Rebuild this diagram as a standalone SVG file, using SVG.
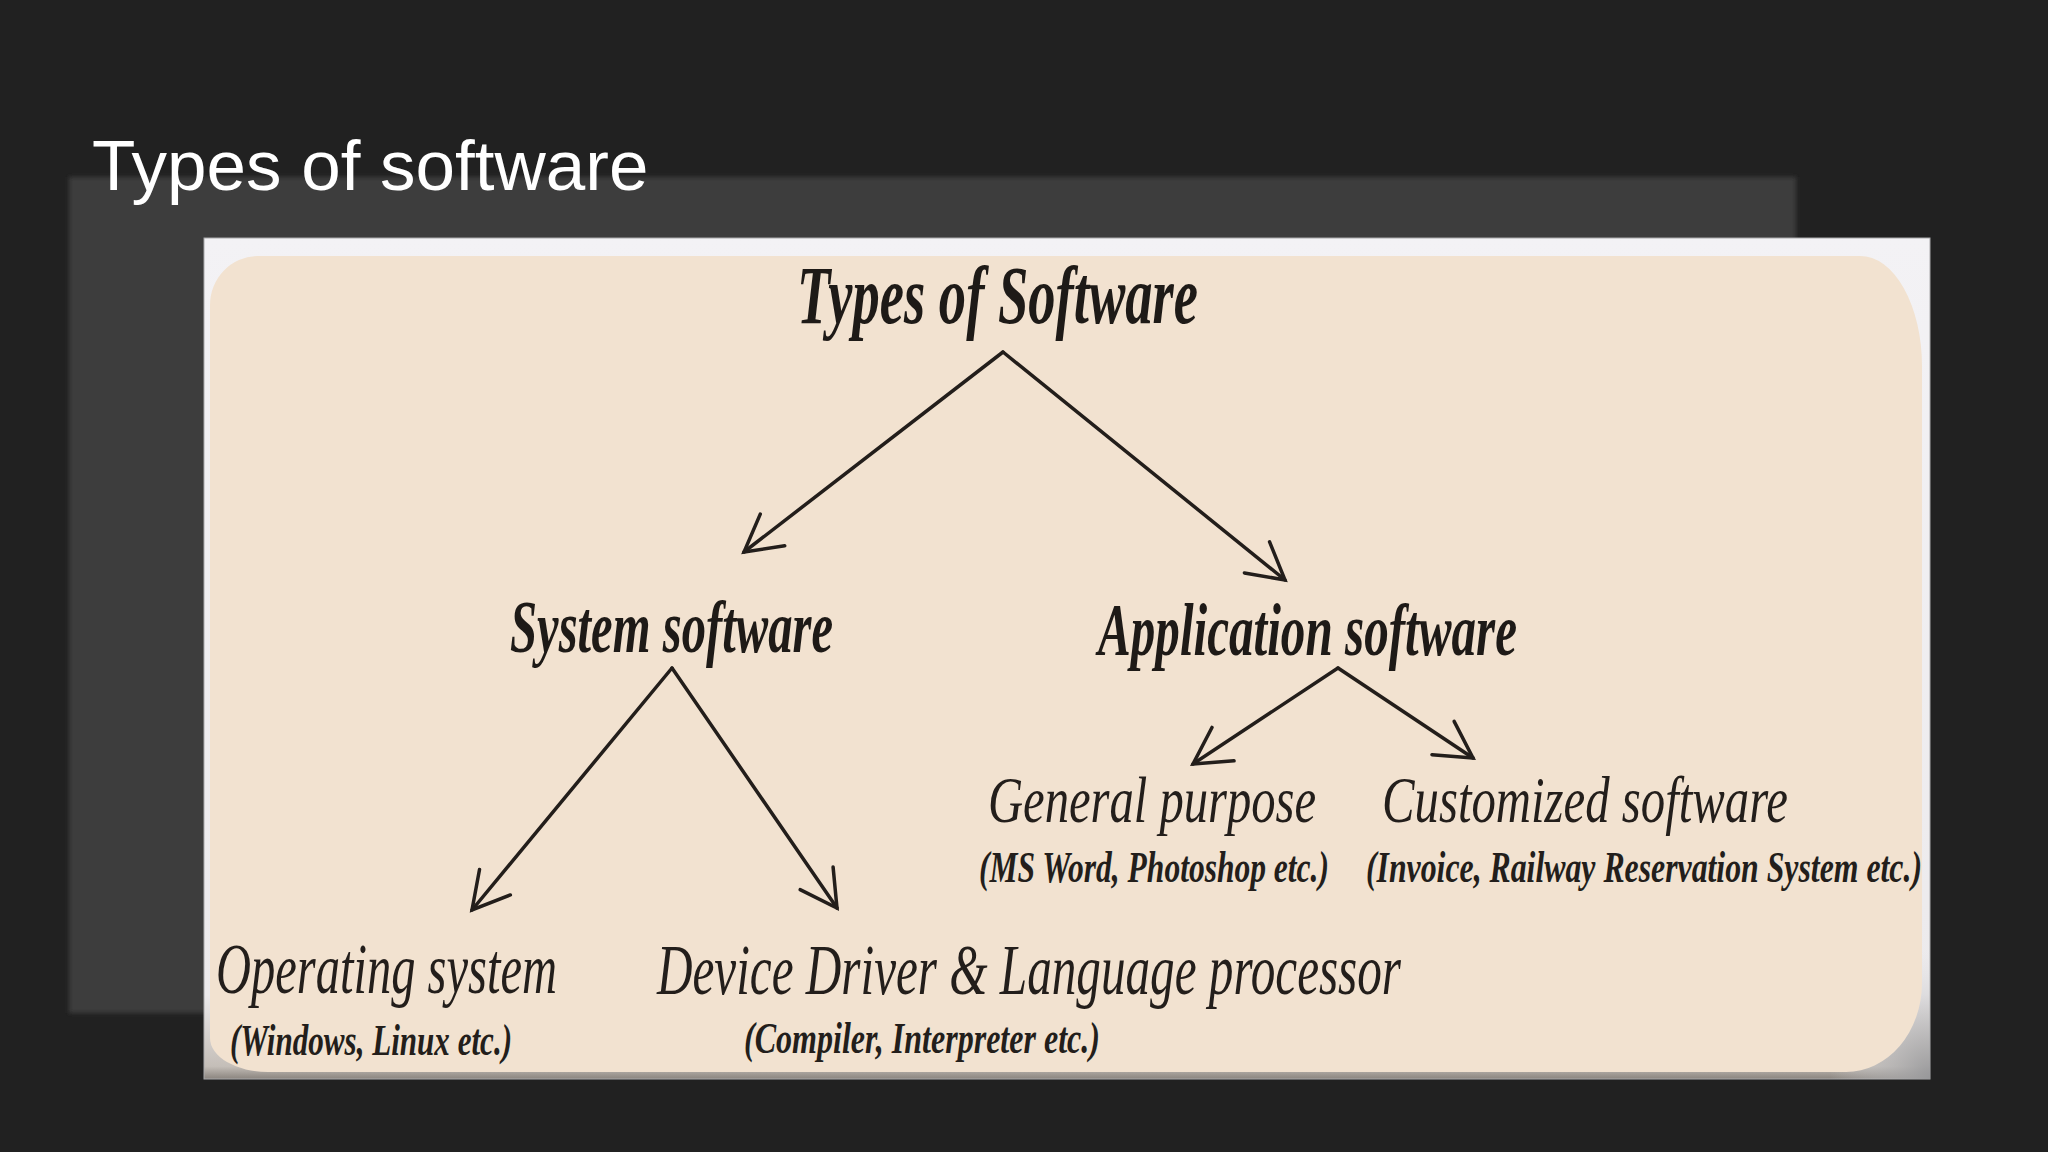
<svg xmlns="http://www.w3.org/2000/svg" width="2048" height="1152" viewBox="0 0 2048 1152">
  <style>
    .h { font-family: "Liberation Serif", "Times New Roman", serif; font-style: italic; font-weight: bold; fill: #1e1a17; }
    .r { font-family: "Liberation Serif", "Times New Roman", serif; font-style: italic; font-weight: normal; fill: #231e1b; }
    .s { font-family: "Liberation Serif", "Times New Roman", serif; font-style: italic; font-weight: bold; fill: #231e1b; font-size: 44px; }
    .edge { fill: none; stroke: #231e1b; stroke-width: 3.5; stroke-linecap: round; marker-end: url(#ah); }
  </style>
  <defs>
    <marker id="ah" markerUnits="userSpaceOnUse" markerWidth="50" markerHeight="50" refX="40" refY="20" orient="auto" overflow="visible">
      <path d="M4,0 L40,20 L4,40" fill="none" stroke="#231e1b" stroke-width="3.5" stroke-linecap="round" stroke-linejoin="miter"/>
    </marker>
    <linearGradient id="frameG" x1="0" y1="0" x2="0" y2="1">
      <stop offset="0" stop-color="#f3f2f5"/>
      <stop offset="0.9" stop-color="#eceaec"/>
      <stop offset="0.985" stop-color="#c4beb8"/>
      <stop offset="1" stop-color="#8a847e"/>
    </linearGradient>
    <radialGradient id="brG" cx="1" cy="1" r="1">
      <stop offset="0" stop-color="#98989a"/>
      <stop offset="1" stop-color="#d8d8da" stop-opacity="0"/>
    </radialGradient>
    <filter id="soft" x="-5%" y="-5%" width="110%" height="110%">
      <feGaussianBlur stdDeviation="2"/>
    </filter>
  </defs>

  <!-- slide background -->
  <rect x="0" y="0" width="2048" height="1152" fill="#212121"/>
  <rect x="69" y="177" width="1727" height="836" fill="#3c3c3c" filter="url(#soft)"/>

  <!-- slide title -->
  <text x="92" y="190" font-family="'Liberation Sans', Arial, sans-serif" font-size="71" fill="#ffffff">Types of software</text>

  <!-- picture frame -->
  <rect x="204" y="238" width="1726" height="841" fill="url(#frameG)" stroke="#a9a9ab" stroke-width="1"/>
  <rect x="1830" y="950" width="100" height="129" fill="url(#brG)"/>
  <path d="M257,256 H1860 A62,110 0 0 1 1922,366 V983 A76,89 0 0 1 1846,1072 H268 A58,34 0 0 1 210,1038 V305 A48,49 0 0 1 257,256 Z" fill="#f2e2d0"/>

  <!-- connectors -->
  <g id="connectors">
    <path class="edge" d="M1003,352 L744,552"/>
    <path class="edge" d="M1003,352 L1285,580"/>
    <path class="edge" d="M672,668 L472,910"/>
    <path class="edge" d="M672,668 L837,908"/>
    <path class="edge" d="M1338,668 L1193,764"/>
    <path class="edge" d="M1338,668 L1473,758"/>
  </g>

  <g id="node-root">
    <text class="h" x="797" y="323" font-size="82" textLength="401" lengthAdjust="spacingAndGlyphs">Types of Software</text>
  </g>
  <g id="node-system">
    <text class="h" x="510" y="652" font-size="74" textLength="323" lengthAdjust="spacingAndGlyphs">System software</text>
  </g>
  <g id="node-application">
    <text class="h" x="1098" y="655" font-size="74" textLength="419" lengthAdjust="spacingAndGlyphs">Application software</text>
  </g>
  <g id="node-general">
    <text class="r" x="988" y="822" font-size="65" textLength="328" lengthAdjust="spacingAndGlyphs">General purpose</text>
    <text class="s" x="979" y="882" textLength="350" lengthAdjust="spacingAndGlyphs">(MS Word, Photoshop etc.)</text>
  </g>
  <g id="node-customized">
    <text class="r" x="1382" y="822" font-size="65" textLength="406" lengthAdjust="spacingAndGlyphs">Customized software</text>
    <text class="s" x="1366" y="882" textLength="556" lengthAdjust="spacingAndGlyphs">(Invoice, Railway Reservation System etc.)</text>
  </g>
  <g id="node-os">
    <text class="r" x="216" y="993" font-size="72" textLength="341" lengthAdjust="spacingAndGlyphs">Operating system</text>
    <text class="s" x="230" y="1055" textLength="282" lengthAdjust="spacingAndGlyphs">(Windows, Linux etc.)</text>
  </g>
  <g id="node-driver">
    <text class="r" x="657" y="994" font-size="72" textLength="744" lengthAdjust="spacingAndGlyphs">Device Driver &amp; Language processor</text>
    <text class="s" x="744" y="1053" textLength="356" lengthAdjust="spacingAndGlyphs">(Compiler, Interpreter etc.)</text>
  </g>
</svg>
